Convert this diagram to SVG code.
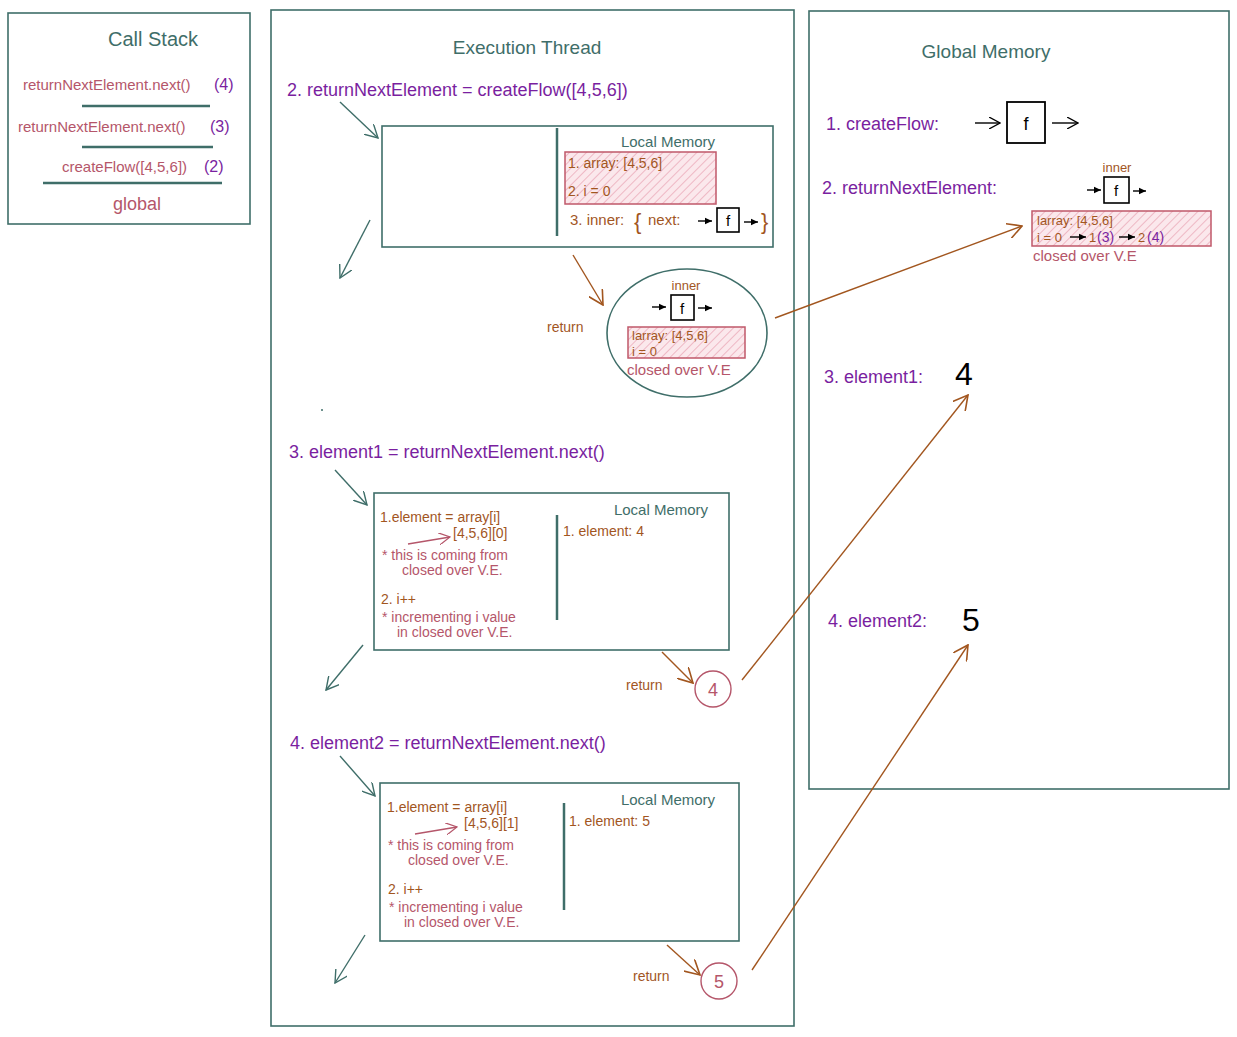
<svg xmlns="http://www.w3.org/2000/svg" width="1237" height="1037" viewBox="0 0 1237 1037">
<style>
text{font-family:"Liberation Sans",Arial,sans-serif}
.box{fill:none;stroke:#3f6e69;stroke-width:1.6}
.t{fill:#3f6e69}
.p{fill:#7a1fa0}
.b{fill:#a2561f}
.r{fill:#b5566a}
.k{fill:#000}
.teal{stroke:#3f6e69;stroke-width:1.4;fill:none}
.brn{stroke:#a2561f;stroke-width:1.4;fill:none}
.blk{stroke:#000;stroke-width:1.4;fill:none}
.pnk{stroke:#b5566a;stroke-width:1.3;fill:none}
.hat{fill:url(#h);stroke:#c0586a;stroke-width:1.5}
</style>
<defs>
<pattern id="h" width="6" height="6" patternUnits="userSpaceOnUse" patternTransform="rotate(45)"><rect width="6" height="6" fill="#fbe8ec"/><line x1="0" y1="0" x2="0" y2="6" stroke="#e9a3b3" stroke-width="1.4"/></pattern>
<marker id="at" viewBox="0 0 12 12" refX="11" refY="6" markerWidth="14" markerHeight="14" markerUnits="userSpaceOnUse" orient="auto"><path d="M0,0 L11,6 L0,12" fill="none" stroke="#3f6e69" stroke-width="1.2"/></marker>
<marker id="ab" viewBox="0 0 12 12" refX="11" refY="6" markerWidth="16" markerHeight="16" markerUnits="userSpaceOnUse" orient="auto"><path d="M0,0 L11,6 L0,12" fill="none" stroke="#a2561f" stroke-width="1.2"/></marker>
<marker id="ak" viewBox="0 0 12 12" refX="11" refY="6" markerWidth="8" markerHeight="8" markerUnits="userSpaceOnUse" orient="auto"><path d="M0,1 L11,6 L0,11 z" fill="#000"/></marker>
<marker id="ak2" viewBox="0 0 12 12" refX="11" refY="6" markerWidth="12" markerHeight="12" markerUnits="userSpaceOnUse" orient="auto"><path d="M0,0 L11,6 L0,12" fill="none" stroke="#000" stroke-width="1.3"/></marker>
<marker id="ap" viewBox="0 0 12 12" refX="11" refY="6" markerWidth="12" markerHeight="12" markerUnits="userSpaceOnUse" orient="auto"><path d="M0,0 L11,6 L0,12" fill="none" stroke="#b5566a" stroke-width="1.2"/></marker>
</defs>

<g id="call-stack">
<rect class="box" x="8" y="13" width="242" height="211"/>
<text x="153" y="46" class="t" font-size="20" text-anchor="middle">Call Stack</text>
<text x="23" y="90" class="r" font-size="15">returnNextElement.next()</text>
<text x="214" y="90" class="p" font-size="16">(4)</text>
<line x1="82" y1="106" x2="210" y2="106" stroke="#3f6e69" stroke-width="2.5"/>
<text x="18" y="132" class="r" font-size="15">returnNextElement.next()</text>
<text x="210" y="132" class="p" font-size="16">(3)</text>
<line x1="82" y1="147" x2="213" y2="147" stroke="#3f6e69" stroke-width="2.5"/>
<text x="62" y="172" class="r" font-size="15">createFlow([4,5,6])</text>
<text x="204" y="172" class="p" font-size="16">(2)</text>
<line x1="43" y1="183" x2="222" y2="183" stroke="#3f6e69" stroke-width="2.5"/>
<text x="137" y="210" class="r" font-size="18" text-anchor="middle">global</text>
</g>

<g id="execution-thread">
<rect class="box" x="271" y="10" width="523" height="1016"/>
<text x="527" y="54" class="t" font-size="19" text-anchor="middle">Execution Thread</text>
<text x="287" y="96" class="p" font-size="18">2. returnNextElement = createFlow([4,5,6])</text>
</g>

<g id="frame-createflow">
<rect class="box" x="382" y="126" width="391" height="121"/>
<line x1="557" y1="128" x2="557" y2="236" stroke="#3f6e69" stroke-width="2.5"/>
<text x="668" y="147" class="t" font-size="15" text-anchor="middle">Local Memory</text>
<rect class="hat" x="565" y="152" width="151" height="52"/>
<text x="568" y="168" class="b" font-size="14">1. array: [4,5,6]</text>
<text x="568" y="196" class="b" font-size="14">2. i = 0</text>
<text x="570" y="225" class="b" font-size="15">3. inner:</text>
<text x="634" y="229" class="b" font-size="22">{</text>
<text x="648" y="225" class="b" font-size="15">next:</text>
<line x1="698" y1="221" x2="712" y2="221" class="blk" marker-end="url(#ak)"/>
<rect x="717" y="208" width="22" height="24" fill="none" stroke="#000" stroke-width="1.6"/>
<text x="728" y="226" class="k" font-size="15" text-anchor="middle">f</text>
<line x1="744" y1="222" x2="758" y2="222" class="blk" marker-end="url(#ak)"/>
<text x="761" y="229" class="b" font-size="22">}</text>
</g>

<g id="closure">
<ellipse cx="687" cy="333" rx="80" ry="64" class="box"/>
<text x="686" y="290" class="b" font-size="13" text-anchor="middle">inner</text>
<line x1="652" y1="307" x2="666" y2="307" class="blk" marker-end="url(#ak)"/>
<rect x="671" y="295" width="23" height="25" fill="none" stroke="#000" stroke-width="1.6"/>
<text x="682" y="314" class="k" font-size="15" text-anchor="middle">f</text>
<line x1="698" y1="308" x2="712" y2="308" class="blk" marker-end="url(#ak)"/>
<rect class="hat" x="628" y="327" width="117" height="31"/>
<text x="632" y="340" class="b" font-size="13">larray: [4,5,6]</text>
<text x="632" y="356" class="b" font-size="13">i = 0</text>
<text x="627" y="375" class="r" font-size="15">closed over V.E</text>
<text x="547" y="332" class="b" font-size="14">return</text>
</g>

<g id="dot"><circle cx="322" cy="410" r="1" fill="#3f6e69"/></g>

<text x="289" y="458" class="p" font-size="18">3. element1 = returnNextElement.next()</text>

<g id="frame-next1">
<rect class="box" x="374" y="493" width="355" height="157"/>
<line x1="557" y1="515" x2="557" y2="620" stroke="#3f6e69" stroke-width="2.5"/>
<text x="661" y="515" class="t" font-size="15" text-anchor="middle">Local Memory</text>
<text x="380" y="522" class="b" font-size="14">1.element = array[i]</text>
<text x="453" y="538" class="b" font-size="14">[4,5,6][0]</text>
<line x1="408" y1="544" x2="450" y2="537" class="pnk" marker-end="url(#ap)"/>
<text x="382" y="560" class="r" font-size="14">* this is coming from</text>
<text x="402" y="575" class="r" font-size="14">closed over V.E.</text>
<text x="381" y="604" class="b" font-size="14">2. i++</text>
<text x="382" y="622" class="r" font-size="14">* incrementing i value</text>
<text x="397" y="637" class="r" font-size="14">in closed over V.E.</text>
<text x="563" y="536" class="b" font-size="14">1. element: 4</text>
</g>
<g id="ret4">
<text x="626" y="690" class="b" font-size="14">return</text>
<circle cx="713" cy="689" r="18" fill="none" stroke="#b5566a" stroke-width="1.4"/>
<text x="713" y="696" class="r" font-size="18" text-anchor="middle">4</text>
</g>

<text x="290" y="749" class="p" font-size="18">4. element2 = returnNextElement.next()</text>

<g id="frame-next2">
<rect class="box" x="380" y="783" width="359" height="158"/>
<line x1="564" y1="803" x2="564" y2="910" stroke="#3f6e69" stroke-width="2.5"/>
<text x="668" y="805" class="t" font-size="15" text-anchor="middle">Local Memory</text>
<text x="387" y="812" class="b" font-size="14">1.element = array[i]</text>
<text x="464" y="828" class="b" font-size="14">[4,5,6][1]</text>
<line x1="415" y1="834" x2="457" y2="827" class="pnk" marker-end="url(#ap)"/>
<text x="388" y="850" class="r" font-size="14">* this is coming from</text>
<text x="408" y="865" class="r" font-size="14">closed over V.E.</text>
<text x="388" y="894" class="b" font-size="14">2. i++</text>
<text x="389" y="912" class="r" font-size="14">* incrementing i value</text>
<text x="404" y="927" class="r" font-size="14">in closed over V.E.</text>
<text x="569" y="826" class="b" font-size="14">1. element: 5</text>
</g>
<g id="ret5">
<text x="633" y="981" class="b" font-size="14">return</text>
<circle cx="719" cy="981" r="18" fill="none" stroke="#b5566a" stroke-width="1.4"/>
<text x="719" y="988" class="r" font-size="18" text-anchor="middle">5</text>
</g>

<g id="global-memory">
<rect class="box" x="809" y="11" width="420" height="778"/>
<text x="986" y="58" class="t" font-size="19" text-anchor="middle">Global Memory</text>
<text x="826" y="130" class="p" font-size="18">1. createFlow:</text>
<line x1="975" y1="123" x2="1000" y2="123" class="blk" marker-end="url(#ak2)"/>
<rect x="1007" y="102" width="38" height="41" fill="none" stroke="#000" stroke-width="1.8"/>
<text x="1026" y="130" class="k" font-size="18" text-anchor="middle">f</text>
<line x1="1052" y1="123" x2="1078" y2="123" class="blk" marker-end="url(#ak2)"/>
<text x="1117" y="172" class="b" font-size="13" text-anchor="middle">inner</text>
<text x="822" y="194" class="p" font-size="18">2. returnNextElement:</text>
<line x1="1087" y1="190" x2="1101" y2="190" class="blk" marker-end="url(#ak)"/>
<rect x="1104" y="177" width="25" height="26" fill="none" stroke="#000" stroke-width="1.6"/>
<text x="1116" y="196" class="k" font-size="15" text-anchor="middle">f</text>
<line x1="1133" y1="191" x2="1146" y2="191" class="blk" marker-end="url(#ak)"/>
<rect class="hat" x="1032" y="211" width="179" height="35"/>
<text x="1037" y="225" class="b" font-size="13">larray: [4,5,6]</text>
<text x="1037" y="242" class="b" font-size="13">i = 0</text>
<line x1="1070" y1="237" x2="1086" y2="237" class="blk" marker-end="url(#ak)"/>
<text x="1089" y="242" class="b" font-size="13">1</text>
<text x="1097" y="242" class="p" font-size="14">(3)</text>
<line x1="1119" y1="237" x2="1135" y2="237" class="blk" marker-end="url(#ak)"/>
<text x="1138" y="242" class="b" font-size="13">2</text>
<text x="1147" y="242" class="p" font-size="14">(4)</text>
<text x="1033" y="261" class="r" font-size="15">closed over V.E</text>
<text x="824" y="383" class="p" font-size="18">3. element1:</text>
<text x="955" y="385" class="k" font-size="32">4</text>
<text x="828" y="627" class="p" font-size="18">4. element2:</text>
<text x="962" y="631" class="k" font-size="32">5</text>
</g>

<g id="connectors">
<line x1="340" y1="102" x2="378" y2="138" class="teal" marker-end="url(#at)"/>
<line x1="370" y1="220" x2="340" y2="278" class="teal" marker-end="url(#at)"/>
<line x1="573" y1="255" x2="603" y2="305" class="brn" marker-end="url(#ab)"/>
<line x1="775" y1="318" x2="1022" y2="226" class="brn" marker-end="url(#ab)"/>
<line x1="335" y1="470" x2="367" y2="505" class="teal" marker-end="url(#at)"/>
<line x1="363" y1="645" x2="326" y2="690" class="teal" marker-end="url(#at)"/>
<line x1="662" y1="652" x2="693" y2="683" class="brn" marker-end="url(#ab)"/>
<line x1="742" y1="680" x2="968" y2="395" class="brn" marker-end="url(#ab)"/>
<line x1="340" y1="756" x2="375" y2="796" class="teal" marker-end="url(#at)"/>
<line x1="365" y1="935" x2="335" y2="983" class="teal" marker-end="url(#at)"/>
<line x1="667" y1="945" x2="700" y2="975" class="brn" marker-end="url(#ab)"/>
<line x1="752" y1="970" x2="968" y2="645" class="brn" marker-end="url(#ab)"/>
</g>
</svg>
